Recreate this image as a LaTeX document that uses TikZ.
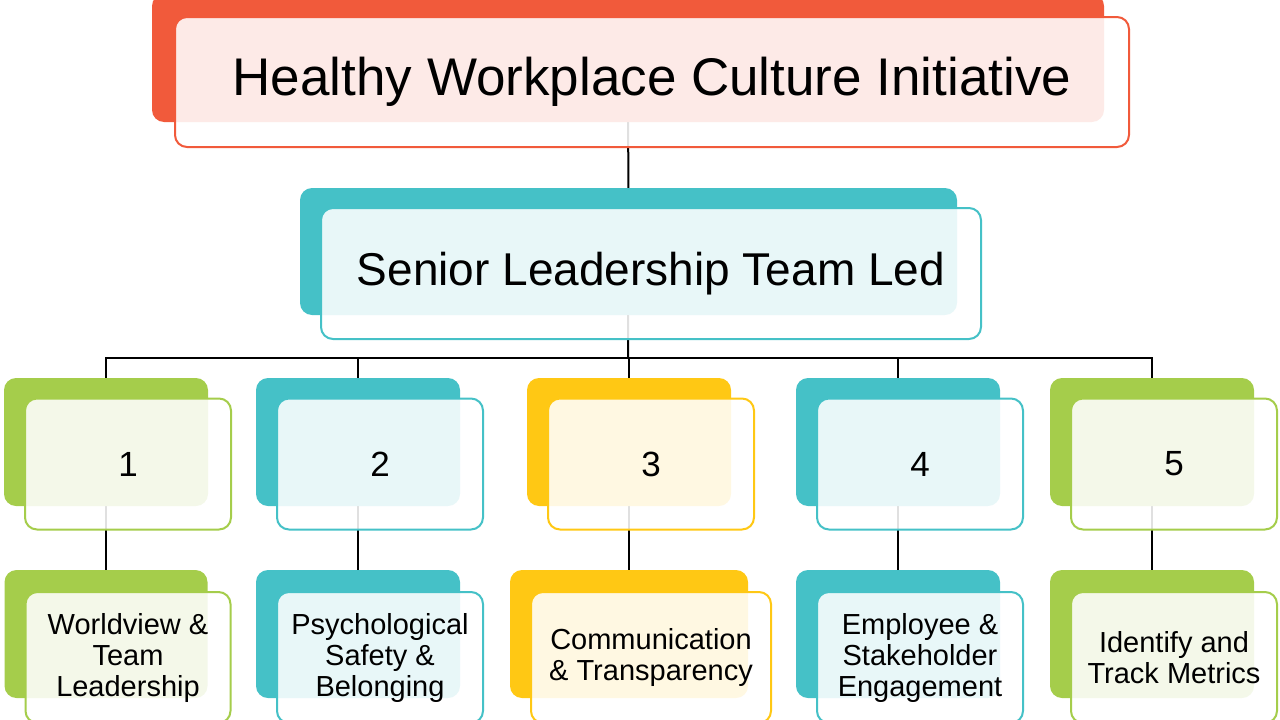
\documentclass[tikz,border=0pt]{standalone}
\usepackage{fontspec}
\setmainfont{Liberation Sans}
\usetikzlibrary{backgrounds}
\definecolor{hwOrange}{HTML}{F15A3B}
\definecolor{hwTeal}{HTML}{45C1C7}
\definecolor{hwGreen}{HTML}{A5CD4B}
\definecolor{hwYellow}{HTML}{FFC814}
\tikzset{
  backcard/.style={rectangle,rounded corners=12pt,fill=#1,draw=none,inner sep=0pt},
  frontcard/.style={rectangle,rounded corners=12pt,draw=#1,line width=2pt,fill=white,
    fill opacity=0.88,text opacity=1,inner sep=0pt,align=center},
  link/.style={line width=2pt,black}
}

\begin{document}
\begin{tikzpicture}[x=1pt,y=-1pt]
\useasboundingbox (0,0) rectangle (1280,720);

% top level
\node[backcard=hwOrange,minimum width=952pt,minimum height=128pt] (top) at (628,58) {};
\node[frontcard=hwOrange,minimum width=954pt,minimum height=130pt,
  font=\fontsize{53}{60}\selectfont] (top-f) at (652,82) {Healthy Workplace Culture Initiative};

\node[backcard=hwTeal,minimum width=657pt,minimum height=127pt] (senior) at (628.5,251.5) {};
\node[frontcard=hwTeal,minimum width=660pt,minimum height=131pt,
  font=\fontsize{46}{52}\selectfont] (senior-f) at (651,273.5) {Senior Leadership Team Led};

% the five columns
\foreach \x/\w/\col/\num/\txt [count=\i] in {
  106/203/hwGreen/1/{Worldview \&\\Team\\Leadership},
  358/204/hwTeal/2/{Psychological\\Safety \&\\Belonging},
  629/238/hwYellow/3/{Communication\\\& Transparency},
  898/204/hwTeal/4/{Employee \&\\Stakeholder\\Engagement},
  1152/204/hwGreen/5/{Identify and\\Track Metrics}}
{
  \node[backcard=\col,minimum width=204pt,minimum height=128pt] (n\i) at (\x,442) {};
  \node[frontcard=\col,minimum width=206pt,minimum height=131pt,
    font=\fontsize{35}{40}\selectfont] (n\i-f) at (\x+22,464) {\num};
  \node[backcard=\col,minimum width=\w pt,minimum height=128pt] (b\i) at (\x,634) {};
  \node[frontcard=\col,minimum width=\w pt+2pt,minimum height=131pt,
    font=\fontsize{29}{31}\selectfont] (b\i-f) at (\x+22,657.5) {\txt};
}

% connectors behind the cards
\begin{scope}[on background layer]
\draw[link] (top.center) -- (senior.center);
\coordinate (bus) at (628,358);
\draw[link] (senior.center) -- (bus);
\draw[link] (n1.center) |- (bus) -| (n5.center);
\foreach \i in {2,3,4} \draw[link] (n\i.center) |- (bus);
\foreach \i in {1,...,5} \draw[link] (n\i.center) -- (b\i.center);
\end{scope}
\end{tikzpicture}
\end{document}
